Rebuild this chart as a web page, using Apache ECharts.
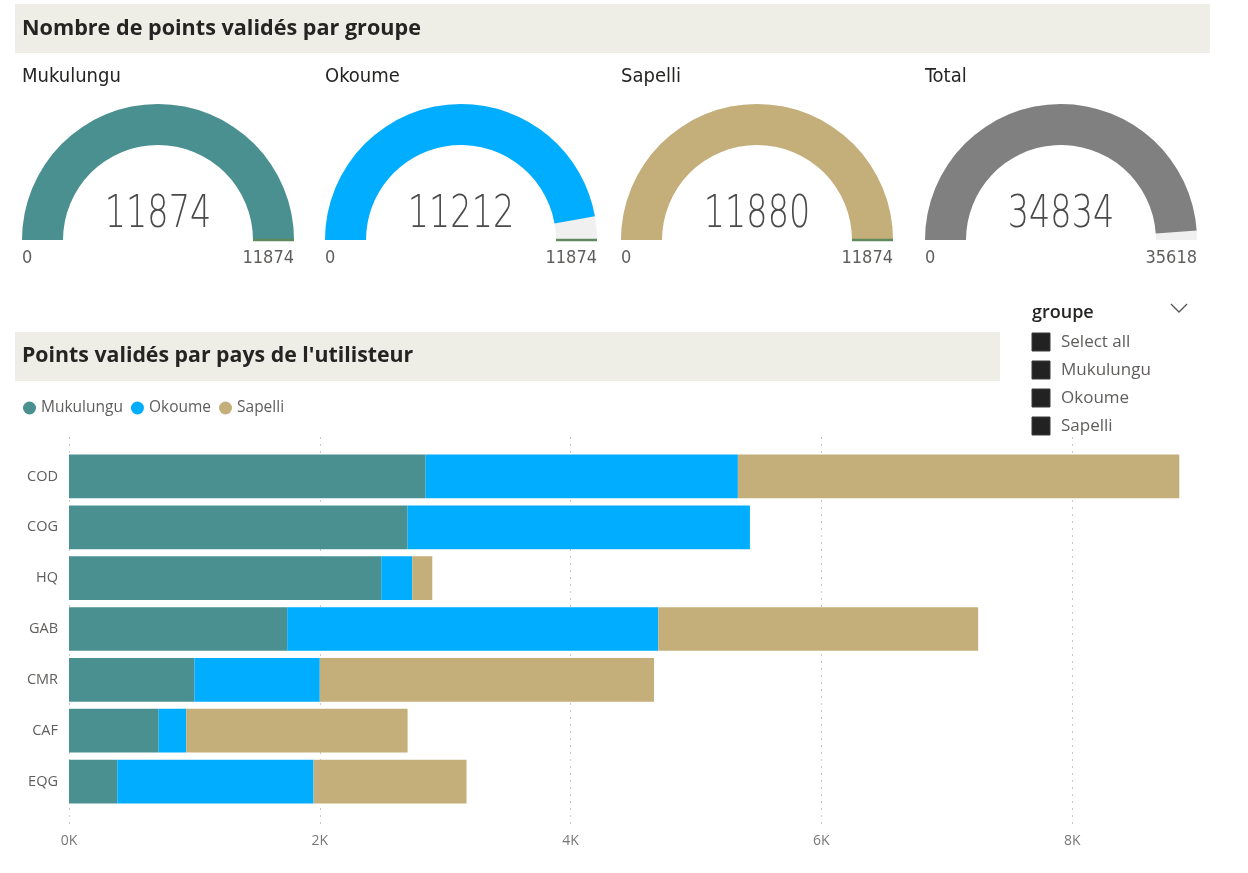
<!DOCTYPE html>
<html><head><meta charset="utf-8">
<script src="https://cdn.jsdelivr.net/npm/echarts@6/dist/echarts.min.js"></script>
<style>html,body{margin:0;padding:0;background:#fff}#c{width:1248px;height:873px}</style>
</head><body><div id="c"></div>
<script>
// ---- data ----
const countries = ['COD', 'COG', 'HQ', 'GAB', 'CMR', 'CAF', 'EQG'];
const groups = ['Mukulungu', 'Okoume', 'Sapelli'];
const mukulungu = [2844, 2700, 2490, 1740, 1000, 715, 385];
const okoume = [2490, 2730, 247, 2960, 1000, 220, 1565];
const sapelli = [3520, 0, 160, 2550, 2665, 1765, 1220];
const gaugeNames = ['Mukulungu', 'Okoume', 'Sapelli', 'Total'];
const gaugeValues = [11874, 11212, 11880, 34834];
const gaugeMin = [0, 0, 0, 0];
const gaugeMax = [11874, 11874, 11874, 35618];
const gaugeTargets = [11874, 11874, 11874, null];
const slicerItems = ['Select all', 'Mukulungu', 'Okoume', 'Sapelli'];
const mainTitle = 'Nombre de points validés par groupe';
const barTitle = "Points validés par pays de l'utilisteur";
const slicerTitle = 'groupe';

// ---- styles / layout ----
const groupColors = ['#4A9091', '#01ADFE', '#C4AE7A'];
const gaugeColors = ['#4A9091', '#01ADFE', '#C4AE7A', '#808080'];
const gaugeCx = [158, 461, 757, 1061];
const gaugeCy = 240, gaugeR = 136, gaugeW = 41;
const condensed = "'DejaVu Sans Condensed', 'Liberation Sans Narrow', sans-serif";
const ui = "'Open Sans', 'Noto Sans', sans-serif";
const axisMax = 9000, pxPerUnit = 0.12540;

const chart = echarts.init(document.getElementById('c'), null, {renderer: 'canvas'});

const graphic = [
  {type: 'rect', shape: {x: 15, y: 4, width: 1195, height: 49}, style: {fill: '#EFEEE6'}, z: 0},
  {type: 'text', x: 22, y: 29, style: {text: mainTitle, fontFamily: ui, fontWeight: 'bold', fontSize: 21.6, fill: '#252423', verticalAlign: 'middle'}},
  {type: 'rect', shape: {x: 15, y: 332, width: 985, height: 49}, style: {fill: '#EFEEE6'}, z: 0},
  {type: 'text', x: 22, y: 356, style: {text: barTitle, fontFamily: ui, fontWeight: 'bold', fontSize: 21.3, fill: '#252423', verticalAlign: 'middle'}},
  {type: 'text', x: 1032, y: 313, style: {text: slicerTitle, fontFamily: ui, fontWeight: 600, fontSize: 18, fill: '#252423', verticalAlign: 'middle'}},
  {type: 'polyline', shape: {points: [[1171, 304], [1179, 312], [1187, 304]]}, style: {stroke: '#555', lineWidth: 1.3, fill: null}}
];
gaugeNames.forEach((n, i) => {
  graphic.push({type: 'text', x: gaugeCx[i] - gaugeR, y: 77, style: {text: n, fontFamily: condensed, fontSize: 20, fill: '#252423', verticalAlign: 'middle'}});
  graphic.push({type: 'text', x: gaugeCx[i] - gaugeR, y: 258, style: {text: String(gaugeMin[i]), fontFamily: condensed, fontSize: 18, fill: '#605E5C', verticalAlign: 'middle', align: 'left'}});
  graphic.push({type: 'text', x: gaugeCx[i] + gaugeR, y: 258, style: {text: String(gaugeMax[i]), fontFamily: condensed, fontSize: 18, fill: '#605E5C', verticalAlign: 'middle', align: 'right'}});
  graphic.push({type: 'text', x: gaugeCx[i], y: 216, scaleX: 0.76, z: 10,
    style: {text: String(gaugeValues[i]), fontFamily: "'DejaVu Sans', sans-serif", fontWeight: 200, fontSize: 44,
      fill: '#4A4A4A', align: 'center', verticalAlign: 'middle'}});
});
slicerItems.forEach((s, i) => {
  const y = 342 + i * 28;
  graphic.push({type: 'rect', shape: {x: 1032, y: y - 9, width: 18, height: 18}, style: {fill: '#222', stroke: '#3a3a3a', lineWidth: 1}});
  graphic.push({type: 'text', x: 1061, y: y, style: {text: s, fontFamily: ui, fontSize: 17, fill: '#605E5C', verticalAlign: 'middle'}});
});

const series = [];
gaugeNames.forEach((n, i) => {
  series.push({
    type: 'gauge', center: [gaugeCx[i], gaugeCy], radius: gaugeR,
    startAngle: 180, endAngle: 0, min: gaugeMin[i], max: gaugeMax[i], splitNumber: 1,
    axisLine: {lineStyle: {width: gaugeW, color: [[1, '#F0F0F0']]}},
    progress: {show: true, width: gaugeW, itemStyle: {color: gaugeColors[i]}},
    pointer: {show: false}, anchor: {show: false}, axisTick: {show: false},
    splitLine: {show: false}, axisLabel: {show: false}, title: {show: false},
    detail: {show: false},
    data: [{value: gaugeValues[i]}]
  });
  if (gaugeTargets[i] != null) {
    series.push({
      type: 'gauge', center: [gaugeCx[i], gaugeCy], radius: gaugeR,
      startAngle: 180, endAngle: 0, min: gaugeMin[i], max: gaugeMax[i],
      axisLine: {show: false}, progress: {show: false}, anchor: {show: false},
      axisTick: {show: false}, splitLine: {show: false}, axisLabel: {show: false},
      title: {show: false}, detail: {show: false},
      pointer: {show: true, icon: 'rect', length: gaugeW, width: 2.5, offsetCenter: [0, -(gaugeR - gaugeW)],
        itemStyle: {color: '#5E8A5E'}},
      z: 5,
      data: [{value: gaugeTargets[i]}]
    });
  }
});
const barData = [mukulungu, okoume, sapelli];
groups.forEach((g, i) => {
  series.push({
    name: g, type: 'bar', stack: 'total', xAxisIndex: 0, yAxisIndex: 0,
    barCategoryGap: '14%', itemStyle: {color: groupColors[i]},
    data: barData[i]
  });
});

const gridW = axisMax * pxPerUnit;
chart.setOption({
  animation: false,
  graphic: graphic,
  legend: {
    data: groups, left: 23, top: 400, padding: 0, icon: 'circle', itemWidth: 13, itemHeight: 13, itemGap: 8,
    textStyle: {color: '#605E5C', fontSize: 15.5, fontFamily: ui}
  },
  grid: [
    {left: 69, top: 451, width: gridW, height: 356},
    {left: 69, top: 437, width: gridW, height: 388}
  ],
  xAxis: [
    {gridIndex: 0, type: 'value', min: 0, max: axisMax, interval: 2000, show: false},
    {gridIndex: 1, type: 'value', min: 0, max: axisMax, interval: 2000,
      axisLine: {show: false}, axisTick: {show: false},
      splitLine: {show: true, showMinLine: true, showMaxLine: false, lineStyle: {type: [2, 5], color: '#C8C8C8', width: 1}},
      axisLabel: {showMaxLabel: false, formatter: v => (v / 1000) + 'K', color: '#777', fontSize: 14, fontFamily: ui, margin: 9}}
  ],
  yAxis: [
    {gridIndex: 0, type: 'category', data: countries, inverse: true,
      axisLine: {show: false}, axisTick: {show: false},
      axisLabel: {color: '#605E5C', fontSize: 14.5, fontFamily: ui, margin: 11}},
    {gridIndex: 1, type: 'value', show: false, splitLine: {show: false}}
  ],
  series: series
});
</script>
</body></html>
